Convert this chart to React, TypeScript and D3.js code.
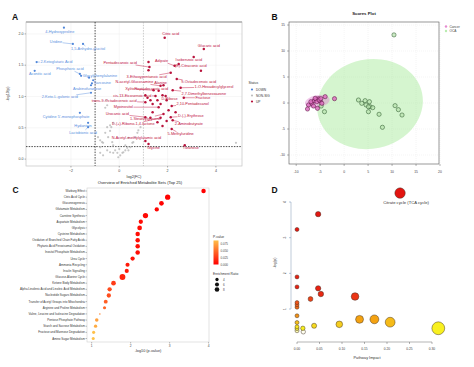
import React, { useEffect, useRef } from 'react';
import * as d3 from 'd3';

const FONT = "'Liberation Sans', Arial, sans-serif";

// ---------- Panel A: volcano plot ----------
interface Labeled { name: string; fc: number; logp: number; lx: number; ly: number; }

const downLabeled: Labeled[] = [
  { name: '4-Hydroxyproline', fc: -2.29, logp: 2.10, lx: -2.46, ly: 2.04 },
  { name: 'Uridine', fc: -1.92, logp: 1.84, lx: -2.62, ly: 1.87 },
  { name: '1,5-Anhydro-glucitol', fc: -1.5, logp: 1.84, lx: -1.29, ly: 1.77 },
  { name: '2-Ketoglutaric Acid', fc: -3.42, logp: 1.55, lx: -2.6, ly: 1.55 },
  { name: 'Aconitic acid', fc: -3.5, logp: 1.41, lx: -3.29, ly: 1.37 },
  { name: 'Phosphoric acid', fc: -1.63, logp: 1.36, lx: -2.04, ly: 1.44 },
  { name: 'Glycylphenylalanine', fc: -1.58, logp: 1.33, lx: -0.8, ly: 1.33 },
  { name: 'Sarcosine', fc: -1.08, logp: 1.26, lx: -0.7, ly: 1.22 },
  { name: 'Arabinofuranose', fc: -1.17, logp: 1.18, lx: -1.33, ly: 1.13 },
  { name: '2-Keto-L-gulonic acid', fc: -1.17, logp: 1.06, lx: -2.46, ly: 0.99 },
  { name: "Cytidine 5'-monophosphate", fc: -1.63, logp: 0.74, lx: -2.2, ly: 0.68 },
  { name: 'Hydantoin', fc: -1.29, logp: 0.58, lx: -1.5, ly: 0.54 },
  { name: 'Lactobionic acid', fc: -1.29, logp: 0.51, lx: -1.5, ly: 0.43 },
];
const downOther: [number, number][] = [[-1.25, 1.30], [-1.13, 1.21]];

const upLabeled: Labeled[] = [
  { name: 'Citric acid', fc: 1.88, logp: 1.94, lx: 2.13, ly: 2.0 },
  { name: 'Glucaric acid', fc: 3.5, logp: 1.76, lx: 3.71, ly: 1.82 },
  { name: 'Pentadecanoic acid', fc: 1.25, logp: 1.47, lx: 0.04, ly: 1.54 },
  { name: 'Adipate', fc: 2.29, logp: 1.49, lx: 1.75, ly: 1.57 },
  { name: 'Isobenzoic acid', fc: 3.08, logp: 1.63, lx: 2.88, ly: 1.59 },
  { name: '(E)-Citraconic acid', fc: 2.46, logp: 1.52, lx: 2.96, ly: 1.49 },
  { name: '3-Ethoxypentanoic acid', fc: 2.13, logp: 1.38, lx: 1.13, ly: 1.31 },
  { name: 'N-acetyl-Glucosamine', fc: 1.71, logp: 1.17, lx: 0.63, ly: 1.23 },
  { name: '9-Octadecenoic acid', fc: 2.38, logp: 1.28, lx: 3.29, ly: 1.23 },
  { name: 'Alanine', fc: 1.83, logp: 1.18, lx: 1.71, ly: 1.22 },
  { name: '1-O-Hexadecylglycerol', fc: 2.54, logp: 1.14, lx: 3.92, ly: 1.15 },
  { name: 'Xylitol', fc: 1.42, logp: 1.10, lx: 0.46, ly: 1.12 },
  { name: 'Heptadecanoic acid', fc: 1.63, logp: 1.09, lx: 1.33, ly: 1.12 },
  { name: '2,7-Dimethylbenzoxazone', fc: 2.21, logp: 1.10, lx: 3.5, ly: 1.05 },
  { name: 'cis-13-Eicosenoic acid', fc: 1.5, logp: 1.01, lx: 0.54, ly: 1.01 },
  { name: 'Fructose', fc: 2.67, logp: 0.98, lx: 3.46, ly: 0.98 },
  { name: 'D-Ribose', fc: 1.79, logp: 1.02, lx: 2.08, ly: 0.96 },
  { name: 'trans-9-Octadecenoic acid', fc: 1.08, logp: 0.91, lx: -0.21, ly: 0.93 },
  { name: '2,10-Pentadecanol', fc: 2.17, logp: 0.85, lx: 3.04, ly: 0.88 },
  { name: 'Myoinositol', fc: 1.63, logp: 0.83, lx: 0.17, ly: 0.83 },
  { name: 'Urocanic acid', fc: 1.08, logp: 0.67, lx: -0.08, ly: 0.72 },
  { name: 'D-(-)-Erythrose', fc: 2.13, logp: 0.67, lx: 2.96, ly: 0.69 },
  { name: '1-Stearoylglycerol', fc: 1.83, logp: 0.72, lx: 1.08, ly: 0.65 },
  { name: 'D-(+)-Ribono-1,4-lactone', fc: 1.71, logp: 0.66, lx: 0.58, ly: 0.56 },
  { name: '2-Aminobutyrate', fc: 2.21, logp: 0.62, lx: 2.88, ly: 0.56 },
  { name: '5-Methyluridine', fc: 2.17, logp: 0.48, lx: 2.54, ly: 0.40 },
  { name: 'N-Acetyl-methylglutamic acid', fc: 1.08, logp: 0.29, lx: 0.71, ly: 0.35 },
  { name: 'Glycine', fc: 1.21, logp: 0.24, lx: 1.42, ly: 0.19 },
  { name: 'Turanose', fc: 2.71, logp: 0.22, lx: 2.96, ly: 0.19 },
];
const upOther: [number, number][] = [
  [1.21, 1.55], [1.21, 1.42], [1.08, 1.02], [1.17, 0.98], [1.29, 0.94], [1.38, 0.88],
  [1.58, 0.94], [1.71, 0.88], [1.96, 0.94], [1.92, 1.01], [2.04, 0.78], [2.33, 0.75],
  [1.96, 0.61], [1.58, 0.59], [3.38, 1.41], [1.29, 0.66], [1.79, 0.53], [1.38, 0.75],
];
const nonSig: [number, number][] = [
  [-0.88, 0.35], [-0.79, 0.30], [-0.71, 0.27], [-0.67, 0.26], [-0.79, 0.19], [-0.5, 0.51],
  [-0.38, 0.54], [-0.58, 0.42], [-0.46, 0.35], [-0.29, 0.27], [-0.25, 0.22], [-0.17, 0.14],
  [-0.08, 0.10], [-0.04, 0.03], [0.04, 0.06], [0.13, 0.10], [0.17, 0.11], [0.25, 0.14],
  [0.33, 0.18], [0.38, 0.14], [0.46, 0.19], [0.54, 0.26], [0.58, 0.27], [0.67, 0.35],
  [0.75, 0.42], [0.79, 0.46], [0.88, 0.51], [-0.79, 0.10], [-0.67, 0.06], [-0.5, 0.14],
  [-0.38, 0.11], [-0.25, 0.10], [-0.54, 0.94], [-0.5, 0.86], [-0.58, 0.82], [-0.25, 0.58],
  [-0.33, 0.51], [-0.38, 0.45], [4.83, 0.26], [0.38, 0.34], [0.25, 0.22], [0.0, 0.16],
];
const volcanoXTicks = [-2, 0, 2, 4];
const volcanoYTicks = [0, 0.5, 1, 1.5, 2];
const fcCut = [-1, 1];
const pCut = 0.2;
const statusNames = ['DOWN', 'NON-SIG', 'UP'];
const statusColors = ['#4f86d9', '#bdbdbd', '#b8133c'];

// ---------- Panel B: PCA scores ----------
const cancerScores: [number, number][] = [
  [-7.43, -0.38], [-7.64, -1.15], [-6.74, -0.06], [-6.25, 0.45], [-5.83, 0.71], [-5.35, 0.83],
  [-5.0, 0.38], [-5.56, -1.03], [-4.65, -0.06], [-3.96, 1.22], [-2.01, 0.83], [-6.39, -0.58],
  [-5.69, 0.25], [-5.21, 0.58], [-6.04, 0.90], [-6.94, 0.25], [-4.86, 0.83],
];
const ocaScores: [number, number][] = [
  [10.4, 13.1], [2.99, 0.58], [3.68, -0.06], [4.38, 0.45], [5.28, 0.25], [4.58, -0.38],
  [5.42, -0.71], [5.97, -0.9], [5.07, -1.67], [5.07, -0.71], [7.29, -2.17], [7.99, -4.67],
  [10.63, -0.51], [11.32, -1.28], [12.08, -2.31], [-4.79, -0.58], [-4.1, -1.67],
];
// confidence ellipses: centre, semi-axes (score units), rotation (deg)
const groupEllipses = [
  { group: 'OCA', cx: 5.4, cy: -0.2, rx: 11.1, ry: 8.6, angle: -12 },
  { group: 'Cancer', cx: -5.6, cy: 0.3, rx: 2.6, ry: 1.2, angle: -10 },
];
const scoreGroups = ['Cancer', 'OCA'];
const scoreXTicks = [-10, -5, 0, 5, 10, 15, 20];
const scoreYTicks = [-10, -5, 0, 5, 10, 15];

// ---------- Panel C: enrichment overview ----------
const metaboliteSets = [
  'Warburg Effect', 'Citric Acid Cycle', 'Gluconeogenesis', 'Glutamate Metabolism',
  'Carnitine Synthesis', 'Aspartate Metabolism', 'Glycolysis', 'Cysteine Metabolism',
  'Oxidation of Branched Chain Fatty Acids', 'Phytanic Acid Peroxisomal Oxidation',
  'Inositol Phosphate Metabolism', 'Urea Cycle', 'Ammonia Recycling', 'Insulin Signalling',
  'Glucose-Alanine Cycle', 'Ketone Body Metabolism',
  'Alpha Linolenic Acid and Linoleic Acid Metabolism', 'Nucleotide Sugars Metabolism',
  'Transfer of Acetyl Groups into Mitochondria', 'Arginine and Proline Metabolism',
  'Valine, Leucine and Isoleucine Degradation', 'Pentose Phosphate Pathway',
  'Starch and Sucrose Metabolism', 'Fructose and Mannose Degradation', 'Amino Sugar Metabolism',
];
const setLogP = [3.87, 2.95, 2.79, 2.67, 2.38, 2.26, 2.23, 2.18, 2.18, 2.18, 2.18, 2.05, 1.92,
  1.9, 1.79, 1.56, 1.46, 1.44, 1.36, 1.33, 1.21, 1.13, 1.1, 1.05, 1.04];
const setRatio = [7.5, 10.4, 8.2, 6.9, 10.4, 6.9, 8.2, 7.5, 7.5, 7.5, 7.5, 6.9, 6.3, 6.3, 12.8,
  8.2, 6.9, 6.9, 5.7, 3.6, 0.9, 4.6, 4.1, 3.6, 3.6];
const setXTicks = [1, 2, 3, 4];
const pLegendTicks = [0.075, 0.05, 0.025, 0];
const ratioLegend = [4, 6, 8];

// ---------- Panel D: pathway impact ----------
const pathwayImpact = [0.229, 0.047, 0, 0, 0, 0.047, 0.053, 0.03, 0.129, 0, 0, 0, 0, 0, 0, 0, 0,
  0.013, 0.014, 0.038, 0.094, 0.139, 0.172, 0.207, 0.314];
const pathwayLogP = [4.25, 3.66, 3.23, 1.9, 1.62, 1.58, 1.42, 1.28, 1.35, 1.18, 1.12, 1.05, 0.81,
  0.62, 0.5, 0.45, 0.39, 0.46, 0.36, 0.53, 0.57, 0.71, 0.71, 0.63, 0.46];
const pathwayNames = ['Citrate cycle (TCA cycle)'];
const pathwayXTicks = [0, 0.05, 0.1, 0.15, 0.2, 0.25, 0.3];
const pathwayYTicks = [1, 2, 3, 4];

type G = d3.Selection<SVGGElement, unknown, null, undefined>;

function txt(g: G, x: number, y: number, s: string, size: number, anchor = 'start', fill = '#333') {
  return g.append('text').attr('x', x).attr('y', y).attr('font-size', size)
    .attr('text-anchor', anchor).attr('fill', fill).text(s);
}

function drawVolcano(g: G) {
  const x = d3.scaleLinear().domain([-3.86, 5.08]).range([26, 242]);
  const y = d3.scaleLinear().domain([-0.11, 2.19]).range([166, 22]);

  g.selectAll('.gx').data(volcanoXTicks).join('line')
    .attr('x1', d => x(d)).attr('x2', d => x(d)).attr('y1', 22).attr('y2', 166)
    .attr('stroke', '#eeeeee').attr('stroke-width', 0.5);
  g.selectAll('.gy').data(volcanoYTicks).join('line')
    .attr('y1', d => y(d)).attr('y2', d => y(d)).attr('x1', 26).attr('x2', 242)
    .attr('stroke', '#eeeeee').attr('stroke-width', 0.5);
  g.append('rect').attr('x', 26).attr('y', 22).attr('width', 216).attr('height', 144)
    .attr('fill', 'none').attr('stroke', '#c4c4c4').attr('stroke-width', 0.7);
  g.append('line').attr('x1', 26).attr('x2', 242).attr('y1', 22).attr('y2', 22)
    .attr('stroke', '#b0b0b0').attr('stroke-width', 1.6);

  // thresholds
  g.append('line').attr('x1', x(fcCut[0])).attr('x2', x(fcCut[0])).attr('y1', 22).attr('y2', 166)
    .attr('stroke', '#222').attr('stroke-width', 0.8).attr('stroke-dasharray', '1.5,1.2');
  g.append('line').attr('x1', x(fcCut[1])).attr('x2', x(fcCut[1])).attr('y1', 22).attr('y2', 166)
    .attr('stroke', '#aaaaaa').attr('stroke-width', 0.6).attr('stroke-dasharray', '1.5,1.2');
  g.append('line').attr('x1', 26).attr('x2', 242).attr('y1', y(pCut)).attr('y2', y(pCut))
    .attr('stroke', '#222').attr('stroke-width', 0.8).attr('stroke-dasharray', '1.5,1.2');

  // axes
  volcanoXTicks.forEach(t => {
    g.append('line').attr('x1', x(t)).attr('x2', x(t)).attr('y1', 166).attr('y2', 167.5).attr('stroke', '#444').attr('stroke-width', 0.4);
    txt(g, x(t), 172, d3.format('d')(t), 3.6, 'middle', '#444');
  });
  volcanoYTicks.forEach(t => {
    g.append('line').attr('x1', 24.5).attr('x2', 26).attr('y1', y(t)).attr('y2', y(t)).attr('stroke', '#444').attr('stroke-width', 0.4);
    txt(g, 23.5, y(t) + 1.2, d3.format('.1f')(t), 3.6, 'end', '#444');
  });
  txt(g, 134, 178, 'log2(FC)', 3.8, 'middle', '#333');
  txt(g, 0, 0, '-log10(p)', 3.8, 'middle', '#333').attr('transform', `translate(9,94) rotate(-90)`);

  // points
  g.selectAll('.ns').data(nonSig).join('circle')
    .attr('cx', d => x(d[0])).attr('cy', d => y(d[1])).attr('r', 1.1)
    .attr('fill', statusColors[1]).attr('opacity', 0.85);
  g.selectAll('.dn').data([...downOther, ...downLabeled.map(d => [d.fc, d.logp] as [number, number])]).join('circle')
    .attr('cx', d => x(d[0])).attr('cy', d => y(d[1])).attr('r', 1.1).attr('fill', statusColors[0]);
  g.selectAll('.up').data([...upOther, ...upLabeled.map(d => [d.fc, d.logp] as [number, number])]).join('circle')
    .attr('cx', d => x(d[0])).attr('cy', d => y(d[1])).attr('r', 1.25).attr('fill', statusColors[2]);

  const labelSet = (items: Labeled[], color: string) => {
    items.forEach(d => {
      const lx = x(d.lx), ly = y(d.ly);
      const t = txt(g, lx, ly, d.name, 3.85, 'middle', color).attr('dy', '0.35em');
      const w = (t.node() as SVGTextElement).getComputedTextLength() / 2 + 0.5;
      const h = 2.3;
      const px = x(d.fc), py = y(d.logp);
      const dx = px - lx, dy = py - ly;
      if (Math.abs(dx) <= w + 1.5 && Math.abs(dy) <= h + 1.5) return;
      const s = Math.min(w / Math.max(Math.abs(dx), 1e-6), h / Math.max(Math.abs(dy), 1e-6));
      g.append('line').attr('x1', lx + dx * s).attr('y1', ly + dy * s).attr('x2', px).attr('y2', py)
        .attr('stroke', color).attr('stroke-width', 0.45);
    });
  };
  labelSet(downLabeled, '#5a8fe0');
  labelSet(upLabeled, '#c0123e');

  // legend
  txt(g, 248.5, 84, 'Status', 3.4, 'start', '#333');
  statusNames.forEach((s, i) => {
    g.append('circle').attr('cx', 252).attr('cy', 89.5 + i * 6).attr('r', 1.1).attr('fill', statusColors[i]);
    txt(g, 256, 90.7 + i * 6, s, 3.2, 'start', '#333');
  });
}

function drawScores(g: G) {
  const x = d3.scaleLinear().domain([-11.5, 20]).range([289, 440]);
  const y = d3.scaleLinear().domain([-11.73, 15.58]).range([164, 22]);

  txt(g, 364, 15, 'Scores Plot', 4.3, 'middle', '#222').attr('font-weight', 'bold');

  scoreXTicks.forEach(t => g.append('line').attr('x1', x(t)).attr('x2', x(t)).attr('y1', 22).attr('y2', 164)
    .attr('stroke', '#e6e6e6').attr('stroke-width', 0.4).attr('stroke-dasharray', '1,1'));
  scoreYTicks.forEach(t => g.append('line').attr('y1', y(t)).attr('y2', y(t)).attr('x1', 289).attr('x2', 439)
    .attr('stroke', '#e6e6e6').attr('stroke-width', 0.4).attr('stroke-dasharray', '1,1'));

  const fills: Record<string, string> = { OCA: '#9ce88c', Cancer: '#e07ad0' };
  groupEllipses.forEach(e => {
    const rx = x(e.cx + e.rx) - x(e.cx);
    const ry = y(e.cy) - y(e.cy + e.ry);
    g.append('ellipse').attr('cx', 0).attr('cy', 0).attr('rx', rx).attr('ry', ry)
      .attr('transform', `translate(${x(e.cx)},${y(e.cy)}) rotate(${e.angle})`)
      .attr('fill', fills[e.group]).attr('opacity', 0.42);
  });

  g.selectAll('.oca').data(ocaScores).join('circle')
    .attr('cx', d => x(d[0])).attr('cy', d => y(d[1])).attr('r', 2.1)
    .attr('fill', '#b6e3ad').attr('fill-opacity', 0.7).attr('stroke', '#2d5a2d').attr('stroke-width', 0.55);
  g.selectAll('.can').data(cancerScores).join('circle')
    .attr('cx', d => x(d[0])).attr('cy', d => y(d[1])).attr('r', 2.1)
    .attr('fill', '#dd6fc0').attr('fill-opacity', 0.85).attr('stroke', '#5a1040').attr('stroke-width', 0.55);

  g.append('rect').attr('x', 289).attr('y', 22).attr('width', 150).attr('height', 142)
    .attr('fill', 'none').attr('stroke', '#555').attr('stroke-width', 0.6);

  scoreXTicks.forEach(t => {
    g.append('line').attr('x1', x(t)).attr('x2', x(t)).attr('y1', 164).attr('y2', 166).attr('stroke', '#444').attr('stroke-width', 0.4);
    txt(g, x(t), 172.5, String(t), 3.4, 'middle', '#444');
  });
  scoreYTicks.forEach(t => {
    g.append('line').attr('x1', 287).attr('x2', 289).attr('y1', y(t)).attr('y2', y(t)).attr('stroke', '#444').attr('stroke-width', 0.4);
    txt(g, 285, y(t) + 1.2, String(t), 3.4, 'end', '#444');
  });

  scoreGroups.forEach((s, i) => {
    g.append('circle').attr('cx', 446).attr('cy', 26.5 + i * 4.5).attr('r', 1.2)
      .attr('fill', i === 0 ? '#e58ad0' : '#b9ecb0');
    txt(g, 449.5, 27.7 + i * 4.5, s, 3.2, 'start', '#444');
  });
}

function drawEnrichment(g: G) {
  const x = d3.scaleLinear().domain([0.88, 4.01]).range([87, 209]);
  const y = d3.scalePoint<string>().domain(metaboliteSets).range([191, 338.5]);
  const color = d3.scaleLinear<string>().domain([0, 0.09]).range(['#ff0000', '#ffc24a']).clamp(true);
  const size = d3.scaleSqrt().domain([0, 13]).range([0, 2.95]);

  txt(g, 140, 183.5, 'Overview of Enriched Metabolite Sets (Top 25)', 4.1, 'middle', '#222');
  g.append('rect').attr('x', 87).attr('y', 188).attr('width', 122).attr('height', 154)
    .attr('fill', 'none').attr('stroke', '#cfcfcf').attr('stroke-width', 0.6);

  metaboliteSets.forEach(s => {
    g.append('line').attr('x1', 85.5).attr('x2', 87).attr('y1', y(s)!).attr('y2', y(s)!).attr('stroke', '#555').attr('stroke-width', 0.4);
    txt(g, 85, y(s)! + 1, s, 2.95, 'end', '#333');
  });
  setXTicks.forEach(t => {
    g.append('line').attr('x1', x(t)).attr('x2', x(t)).attr('y1', 342).attr('y2', 343.5).attr('stroke', '#555').attr('stroke-width', 0.4);
    txt(g, x(t), 346.5, String(t), 3.2, 'middle', '#444');
  });
  txt(g, 148, 352, '-log10 (p-value)', 3.8, 'middle', '#333');

  g.selectAll('.dot').data(metaboliteSets).join('circle')
    .attr('cx', (d, i) => x(setLogP[i])).attr('cy', d => y(d)!)
    .attr('r', (d, i) => size(setRatio[i]))
    .attr('fill', (d, i) => color(Math.pow(10, -setLogP[i])));

  // p-value colour bar
  const ly = d3.scaleLinear().domain([0, 0.075]).range([264.5, 244]);
  const grad = g.append('defs').append('linearGradient').attr('id', 'pgrad')
    .attr('x1', 0).attr('x2', 0).attr('y1', 1).attr('y2', 0);
  grad.append('stop').attr('offset', '0%').attr('stop-color', color(0));
  grad.append('stop').attr('offset', '100%').attr('stop-color', color(0.088));
  txt(g, 213, 238, 'P-value', 3.3, 'start', '#333');
  g.append('rect').attr('x', 213.5).attr('y', ly(0.088)).attr('width', 5).attr('height', ly(0) - ly(0.088))
    .attr('fill', 'url(#pgrad)');
  pLegendTicks.forEach(t => txt(g, 220.5, ly(t) + 1.1, d3.format('.3f')(t), 3, 'start', '#444'));

  txt(g, 213, 274.5, 'Enrichment Ratio', 3.3, 'start', '#333');
  ratioLegend.forEach((r, i) => {
    g.append('circle').attr('cx', 217).attr('cy', 279.5 + i * 5).attr('r', size(r)).attr('fill', '#111');
    txt(g, 223, 280.6 + i * 5, String(r), 3, 'start', '#444');
  });
}

function drawPathway(g: G) {
  const x = d3.scaleLinear().domain([0, 0.3]).range([297, 432]);
  const y = d3.scaleLinear().domain([1, 4]).range([309, 202]);
  const r = d3.scaleLinear().domain([0, 0.32]).range([2, 6.5]);
  const color = d3.scaleLinear<string>()
    .domain([0.36, 0.46, 0.56, 0.7, 0.85, 1.15, 1.45, 5])
    .range(['#fffff0', '#f8f020', '#f5d020', '#f4a410', '#f08a1a', '#f05a1a', '#e82212', '#e01010'])
    .clamp(true);

  g.append('line').attr('x1', x(0)).attr('x2', x(0.3)).attr('y1', 342).attr('y2', 342).attr('stroke', '#444').attr('stroke-width', 0.4);
  pathwayXTicks.forEach(t => {
    g.append('line').attr('x1', x(t)).attr('x2', x(t)).attr('y1', 342).attr('y2', 344).attr('stroke', '#444').attr('stroke-width', 0.4);
    txt(g, x(t), 350, d3.format('.2f')(t), 3.3, 'middle', '#444');
  });
  g.append('line').attr('x1', 291).attr('x2', 291).attr('y1', y(1)).attr('y2', y(4)).attr('stroke', '#7f96b0').attr('stroke-width', 0.5);
  pathwayYTicks.forEach(t => {
    g.append('line').attr('x1', 289).attr('x2', 291).attr('y1', y(t)).attr('y2', y(t)).attr('stroke', '#6f8fb8').attr('stroke-width', 0.5);
    txt(g, 0, 0, String(t), 3.3, 'middle', '#444').attr('transform', `translate(285.5,${y(t)}) rotate(-90)`);
  });
  txt(g, 367, 358.5, 'Pathway Impact', 3.8, 'middle', '#333');
  txt(g, 0, 0, '-log(p)', 3.8, 'middle', '#333').attr('transform', 'translate(276,263) rotate(-90)');

  const idx = d3.range(pathwayImpact.length).sort((a, b) => pathwayLogP[a] - pathwayLogP[b]);
  g.selectAll('.pw').data(idx).join('circle')
    .attr('cx', i => x(pathwayImpact[i])).attr('cy', i => y(pathwayLogP[i]))
    .attr('r', i => r(pathwayImpact[i]))
    .attr('fill', i => color(pathwayLogP[i]))
    .attr('stroke', '#3a2a20').attr('stroke-width', 0.45);

  pathwayNames.forEach((n, i) => {
    txt(g, x(pathwayImpact[i]) + 6, y(pathwayLogP[i]) + 10.5, n, 4.2, 'middle', '#333');
  });
}

export default function App() {
  const svgRef = useRef<SVGSVGElement>(null);

  useEffect(() => {
    if (!svgRef.current) return;
    const svg = d3.select(svgRef.current);
    svg.selectAll('*').remove();

    drawVolcano(svg.append('g'));
    drawScores(svg.append('g'));
    drawEnrichment(svg.append('g'));
    drawPathway(svg.append('g'));

    // panel letters
    const letters = [['A', 12, 19.5], ['B', 271.5, 19.5], ['C', 12.5, 193], ['D', 271.5, 193]] as const;
    letters.forEach(([l, lx, ly]) => {
      svg.append('text').attr('x', lx).attr('y', ly).attr('font-size', 8.5).attr('font-weight', 'bold')
        .attr('fill', '#111').text(l);
    });
  }, []);

  return (
    <svg
      ref={svgRef}
      width={474}
      height={367}
      style={{ position: 'absolute', left: 0, top: 0, background: '#fff', fontFamily: FONT }}
    />
  );
}
